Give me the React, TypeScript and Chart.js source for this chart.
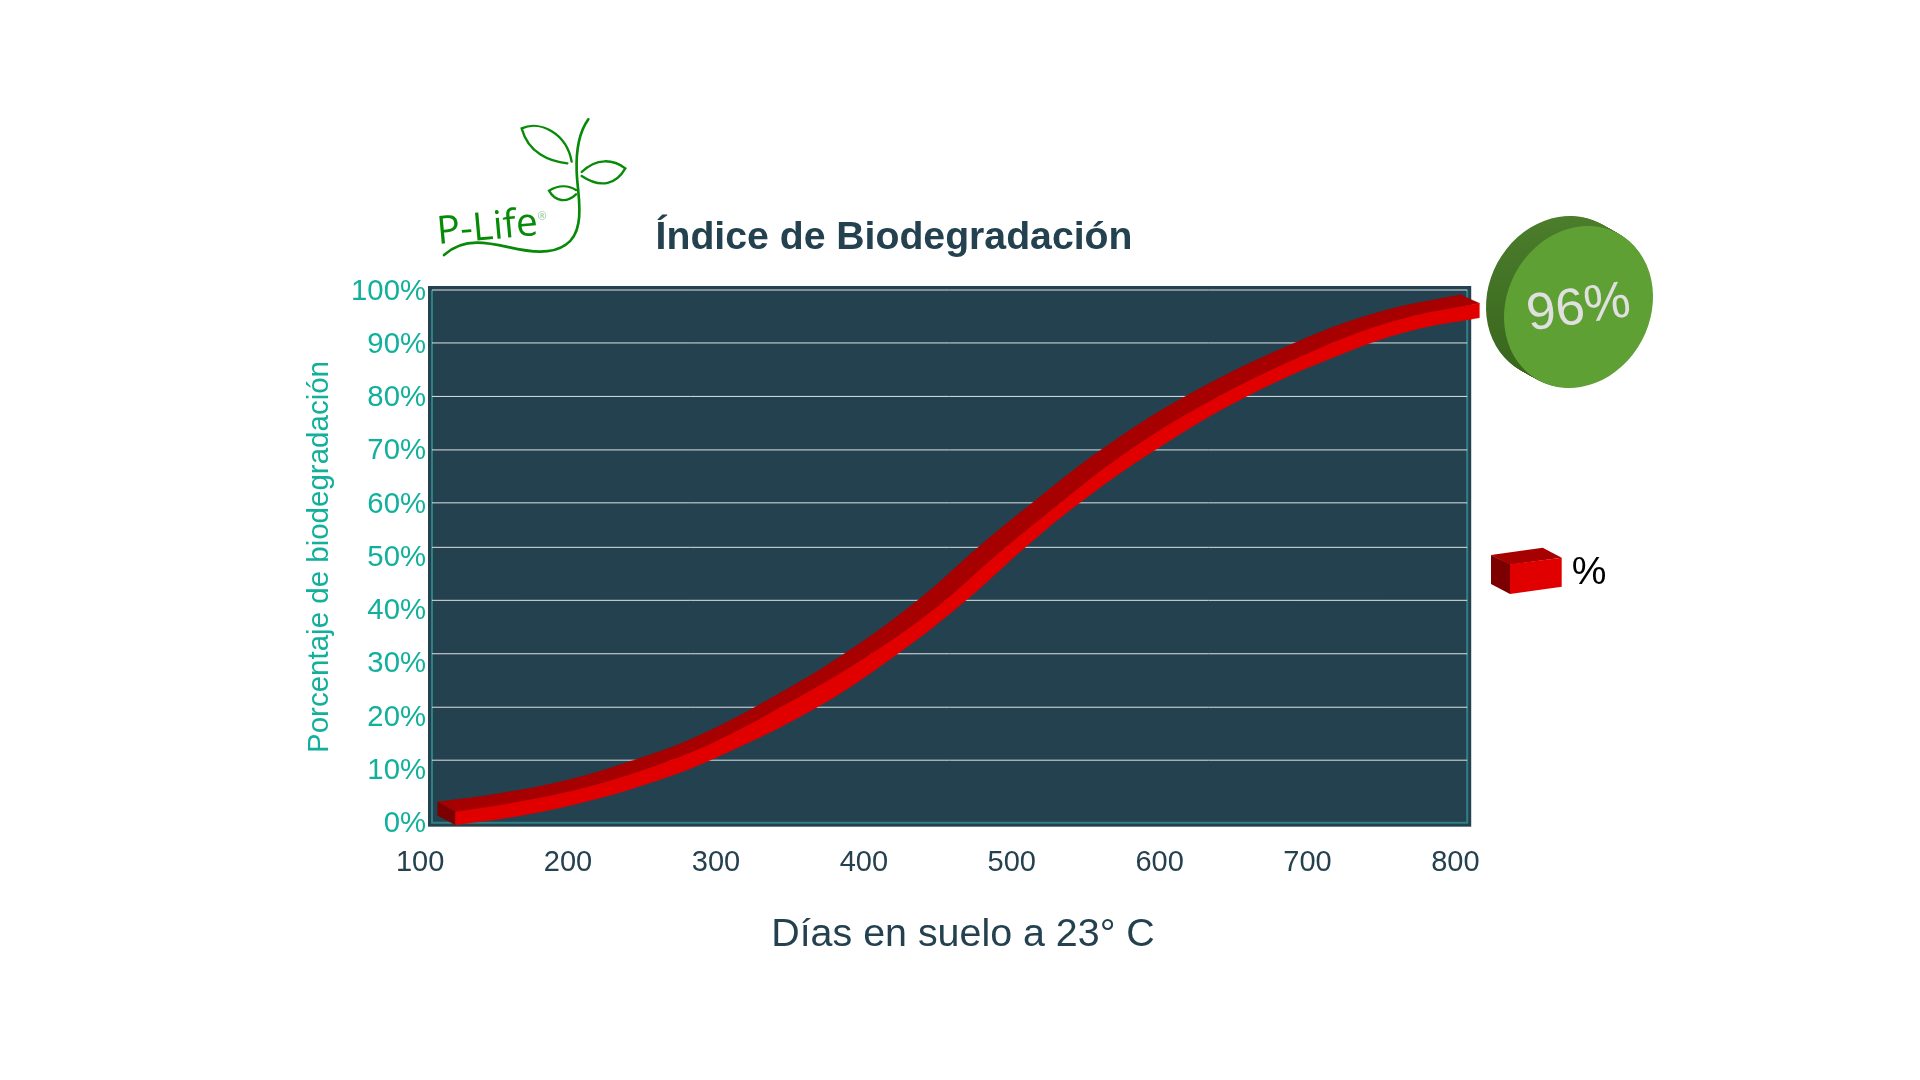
import React, { useEffect, useRef } from 'react';
import Chart from 'chart.js/auto';

const dayTicks = [100, 200, 300, 400, 500, 600, 700, 800];
const percentTicks = [0, 10, 20, 30, 40, 50, 60, 70, 80, 90, 100];
// the reference draws its lower grid lines slightly off the labels
const gridLevels = [100, 90.06, 80.02, 69.98, 60.04, 51.69, 41.74, 31.71, 21.67, 11.73];

// ribbon edges
const backDays = [111.7, 152.1, 196.7, 242, 287.3, 338.7, 387.4, 436.8, 477.4, 513.9, 560.6, 618, 691.8, 749.3, 803.3];
const backPercent = [3.9, 5.4, 7.8, 11.5, 16.2, 23.6, 31.8, 41.8, 51.7, 60, 70, 80.1, 90.1, 95.9, 99.1];
const midDays = [123.7, 162.9, 208.2, 253.5, 298.2, 343.5, 398.9, 448.3, 488.9, 525.4, 572.1, 629.5, 703.2, 760.7, 816.2];
const midPercent = [2, 3.7, 6.3, 10.1, 15, 21.6, 30.6, 40.2, 50, 58.3, 68.4, 78.4, 88.4, 94.3, 97.5];
const lowDays = [123.7, 162.9, 208.2, 253.5, 298.2, 368.5, 423.3, 469.3, 509.2, 545.7, 597.1, 659.3, 726.9, 771.6, 816.2];
const lowPercent = [-0.4, 1.1, 3.7, 7.3, 12, 21.7, 31.8, 41.8, 51.7, 60, 70, 80.1, 88.4, 92.5, 94.8];

const finalValue = '96%';
const seriesName = '%';
const titleText = 'Índice de Biodegradación';
const xTitle = 'Días en suelo a 23° C';
const yTitle = 'Porcentaje de biodegradación';

const sans = '"Liberation Sans", Arial, sans-serif';
const navy = '#24414f';
const teal = '#12b09c';

// scale range of the days axis inside the frame
const frameDayMin = 108;
const frameDayMax = 808;

type Pt = { x: number; y: number };
const points = (xs: number[], ys: number[]): Pt[] => xs.map((x, i) => ({ x, y: ys[i] }));

// closed outline of two edges; the doubled points keep the corners sharp under the spline
const shape = (a: Pt[], b: Pt[]) => {
  const back = [...b].reverse();
  return [...a, a[a.length - 1], back[0], ...back, back[back.length - 1]];
};

const face = (data: Pt[], color: string, order: number, tension: number) => ({
  data,
  order,
  tension,
  backgroundColor: color,
  borderColor: color,
  borderWidth: 0.5,
  pointRadius: 0,
  capBezierPoints: false,
  fill: 'shape',
  clip: false,
});

const drawLogo = (ctx: CanvasRenderingContext2D) => {
  ctx.save();
  ctx.translate(280, 100);
  ctx.scale(1 / 3, 1 / 3);
  ctx.strokeStyle = '#078a07';
  ctx.lineCap = 'round';
  ctx.lineWidth = 8;
  ctx.beginPath();
  // stem running into the wave under the name
  ctx.moveTo(925, 58);
  ctx.bezierCurveTo(895, 100, 888, 160, 890, 215);
  ctx.bezierCurveTo(892, 270, 905, 320, 895, 370);
  ctx.bezierCurveTo(885, 430, 840, 455, 780, 455);
  ctx.bezierCurveTo(710, 455, 660, 428, 590, 428);
  ctx.bezierCurveTo(550, 428, 520, 440, 492, 465);
  ctx.stroke();
  ctx.lineWidth = 7;
  ctx.beginPath();
  // big leaf
  ctx.moveTo(875, 185);
  ctx.bezierCurveTo(860, 100, 780, 60, 725, 85);
  ctx.bezierCurveTo(745, 160, 810, 185, 862, 190);
  // right leaf
  ctx.moveTo(905, 216);
  ctx.bezierCurveTo(950, 172, 1000, 178, 1036, 205);
  ctx.bezierCurveTo(1010, 250, 965, 268, 905, 228);
  // small leaf
  ctx.moveTo(888, 270);
  ctx.bezierCurveTo(865, 255, 835, 255, 807, 272);
  ctx.bezierCurveTo(825, 305, 860, 310, 888, 283);
  ctx.stroke();
  ctx.restore();

  ctx.save();
  ctx.fillStyle = '#078a07';
  ctx.translate(438, 244);
  ctx.rotate(-0.09);
  ctx.font = '500 39px "Open Sans", sans-serif';
  ctx.textAlign = 'left';
  ctx.textBaseline = 'alphabetic';
  ctx.fillText('P-Life', 0, 0);
  ctx.restore();
  ctx.save();
  ctx.fillStyle = '#8cc48c';
  ctx.font = '11px "Open Sans", sans-serif';
  ctx.textAlign = 'center';
  ctx.textBaseline = 'middle';
  ctx.fillText('®', 542, 217);
  ctx.restore();
};

const drawDisc = (ctx: CanvasRenderingContext2D) => {
  const cx = 1578.5;
  const cy = 307;
  ctx.save();
  const side = ctx.createLinearGradient(0, 216, 0, 380);
  side.addColorStop(0, '#4b7d2b');
  side.addColorStop(1, '#38651d');
  ctx.fillStyle = side;
  for (let i = 18; i > 0; i--) {
    ctx.beginPath();
    ctx.ellipse(cx - i, cy - i * 0.56, 71.7, 83.5, 0.495, 0, Math.PI * 2);
    ctx.fill();
  }
  ctx.fillStyle = '#5fa034';
  ctx.beginPath();
  ctx.ellipse(cx, cy, 71.7, 83.5, 0.495, 0, Math.PI * 2);
  ctx.fill();
  ctx.translate(cx, cy);
  ctx.rotate(-0.14);
  ctx.fillStyle = '#e0e0e0';
  ctx.font = `52px ${sans}`;
  ctx.textAlign = 'center';
  ctx.textBaseline = 'middle';
  ctx.fillText(finalValue, 0, 2);
  ctx.restore();
};

const drawLegend = (ctx: CanvasRenderingContext2D) => {
  const poly = (color: string, pts: number[][]) => {
    ctx.fillStyle = color;
    ctx.beginPath();
    pts.forEach(([x, y], i) => (i ? ctx.lineTo(x, y) : ctx.moveTo(x, y)));
    ctx.closePath();
    ctx.fill();
  };
  poly('#a60000', [[1491, 555], [1542.7, 547.7], [1561.7, 557.7], [1510, 564.8]]);
  poly('#7d0000', [[1491, 555], [1510, 564.3], [1510, 594], [1491, 584]]);
  poly('#e00000', [[1510, 564.3], [1561.7, 557.7], [1561.7, 586.7], [1510, 594]]);
  ctx.fillStyle = '#000';
  ctx.font = `39px ${sans}`;
  ctx.textAlign = 'center';
  ctx.textBaseline = 'middle';
  ctx.fillText(seriesName, 1589, 573);
};

const framePlugin = {
  id: 'frame',
  beforeDraw(chart: any) {
    const { ctx, scales } = chart;
    const left = scales.x.getPixelForValue(frameDayMin);
    const right = scales.x.getPixelForValue(frameDayMax);
    const top = scales.y.getPixelForValue(100);
    const bottom = scales.y.getPixelForValue(0);
    ctx.save();
    ctx.fillStyle = navy;
    ctx.fillRect(left - 4, top - 4, right - left + 8, bottom - top + 8);
    ctx.strokeStyle = '#2f8085';
    ctx.lineWidth = 2;
    ctx.beginPath();
    ctx.moveTo(left, top);
    ctx.lineTo(left, bottom);
    ctx.lineTo(right, bottom);
    ctx.lineTo(right, top);
    ctx.stroke();
    ctx.restore();
  },
  beforeDatasetsDraw(chart: any) {
    // grid lines stop at the frame while the ribbon runs past it
    const { ctx, scales } = chart;
    const left = scales.x.getPixelForValue(frameDayMin);
    const right = scales.x.getPixelForValue(frameDayMax);
    ctx.save();
    ctx.strokeStyle = '#dde3e5';
    ctx.lineWidth = 1;
    gridLevels.forEach((level) => {
      const y = scales.y.getPixelForValue(level);
      ctx.beginPath();
      ctx.moveTo(left, y);
      ctx.lineTo(right, y);
      ctx.stroke();
    });
    ctx.restore();
  },
  afterDraw(chart: any) {
    const { ctx } = chart;
    ctx.save();
    drawLogo(ctx);
    ctx.textAlign = 'center';
    ctx.textBaseline = 'middle';
    ctx.fillStyle = navy;
    ctx.font = `bold 39.2px ${sans}`;
    ctx.fillText(titleText, 894, 238.5);
    ctx.font = `39.4px ${sans}`;
    ctx.fillText(xTitle, 963, 935.5);
    ctx.save();
    ctx.translate(320, 557);
    ctx.rotate(-Math.PI / 2);
    ctx.fillStyle = teal;
    ctx.font = `29.5px ${sans}`;
    ctx.fillText(yTitle, 0, 0);
    ctx.restore();
    drawDisc(ctx);
    drawLegend(ctx);
    ctx.restore();
  },
};

export default function App() {
  const canvasRef = useRef<HTMLCanvasElement>(null);

  useEffect(() => {
    if (!canvasRef.current) return;
    const back = points(backDays, backPercent);
    const mid = points(midDays, midPercent);
    const low = points(lowDays, lowPercent);
    const chart = new Chart(canvasRef.current, {
      type: 'line',
      data: {
        datasets: [
          face(shape(back, mid), '#a60000', 3, 0.4),
          face([back[0], mid[0], low[0], { x: backDays[0], y: backPercent[0] - 2.5 }], '#7d0000', 2, 0),
          face(shape(mid, low), '#e00000', 1, 0.4),
        ] as any,
      },
      options: {
        responsive: false,
        animation: false,
        devicePixelRatio: 1,
        layout: { padding: { top: 290, right: 438 } },
        plugins: { legend: { display: false }, tooltip: { enabled: false }, title: { display: false } },
        scales: {
          x: {
            type: 'linear',
            min: frameDayMin,
            max: 818,
            afterBuildTicks: (s: any) => {
              s.ticks = dayTicks.map((value) => ({ value }));
            },
            afterFit: (s: any) => {
              s.height = 252;
            },
            grid: { display: false, drawTicks: false },
            border: { display: false },
            ticks: { color: navy, font: { family: sans, size: 29 }, padding: 18, maxRotation: 0, autoSkip: false, callback: (v: any) => String(v) },
          },
          y: {
            min: -1,
            max: 100,
            afterBuildTicks: (s: any) => {
              s.ticks = percentTicks.map((value) => ({ value }));
            },
            afterFit: (s: any) => {
              s.width = 432;
            },
            grid: { display: false, drawTicks: false },
            border: { display: false },
            ticks: { color: teal, font: { family: sans, size: 29.3 }, padding: 6, labelOffset: 1.5, callback: (v: any) => `${v}%` },
          },
        },
      } as any,
      plugins: [framePlugin],
    });
    return () => chart.destroy();
  }, []);

  return (
    <div style={{ position: 'absolute', left: 0, top: 0, width: 1920, height: 1080, background: '#fff' }}>
      <canvas ref={canvasRef} width={1920} height={1080} style={{ display: 'block' }} />
    </div>
  );
}
